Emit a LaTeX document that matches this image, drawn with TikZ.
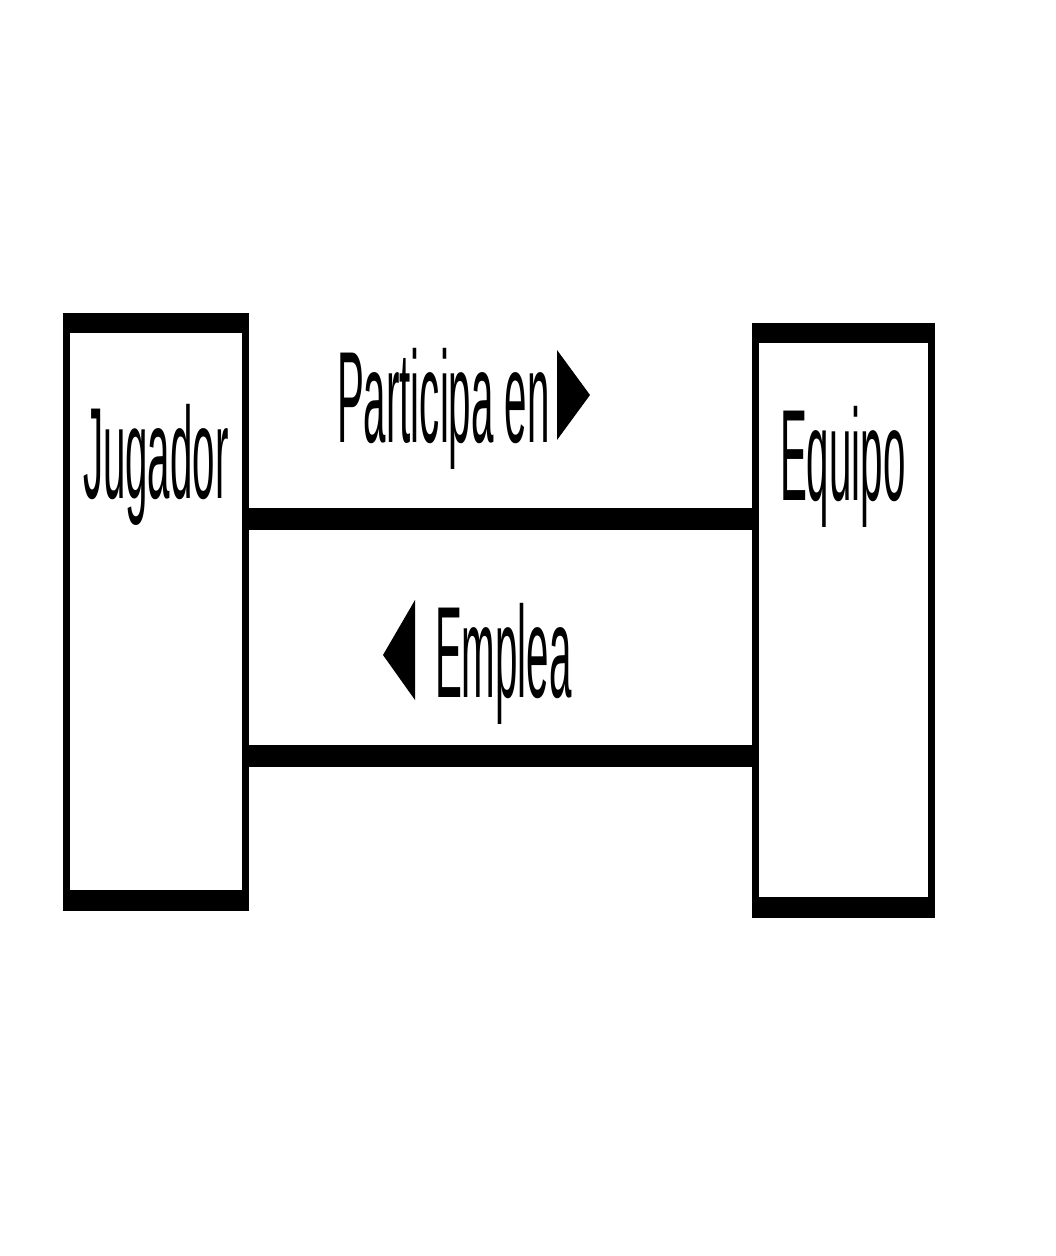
\documentclass[tikz,border=0pt]{standalone}
\usepackage{fontspec}
\setmainfont{Liberation Sans}
\begin{document}
\begin{tikzpicture}[x=1pt,y=-1pt,
  box/.style={draw,line width=7pt,inner sep=0pt,outer sep=0pt},
  link/.style={line width=22pt},
  lbl/.style={inner sep=0pt,outer sep=0pt,anchor=base west,font=\fontsize{130}{130}\selectfont},
  tri/.style={fill=black}]
\useasboundingbox (0,0) rectangle (1056,1256);
% entity boxes
\node[box,minimum width=179pt,minimum height=591pt] (jug) at (156,612) {};
\node[box,minimum width=176pt,minimum height=588pt] (equ) at (843.5,620.5) {};
% thick top and bottom borders
\fill ([xshift=-3.5pt,yshift=3.5pt]jug.north west) rectangle ([xshift=3.5pt,yshift=-16.5pt]jug.north east);
\fill ([xshift=-3.5pt,yshift=-3.5pt]jug.south west) rectangle ([xshift=3.5pt,yshift=17.5pt]jug.south east);
\fill ([xshift=-3.5pt,yshift=3.5pt]equ.north west) rectangle ([xshift=3.5pt,yshift=-16.5pt]equ.north east);
\fill ([xshift=-3.5pt,yshift=-3.5pt]equ.south west) rectangle ([xshift=3.5pt,yshift=17.5pt]equ.south east);
% entity names
\node[lbl] (jugtxt) at (83,498) {\scalebox{0.31}[1]{Jugador}};
\node[lbl] (equtxt) at (780,500) {\scalebox{0.31}[1]{Equipo}};
% relationship lines
\coordinate (r1) at (0,519);
\coordinate (r2) at (0,756);
\draw[link] (jug.east |- r1) -- (equ.west |- r1);
\draw[link] (jug.east |- r2) -- (equ.west |- r2);
% relationship labels
\node[lbl] (part) at (337,442) {\scalebox{0.31}[1]{Participa en}};
\fill[tri] (557,350) -- (590,395) -- (557,440) -- cycle;
\node[lbl] (emp) at (435,697) {\scalebox{0.31}[1]{Emplea}};
\fill[tri] (415,600) -- (383,655) -- (415,700) -- cycle;
\end{tikzpicture}
\end{document}
